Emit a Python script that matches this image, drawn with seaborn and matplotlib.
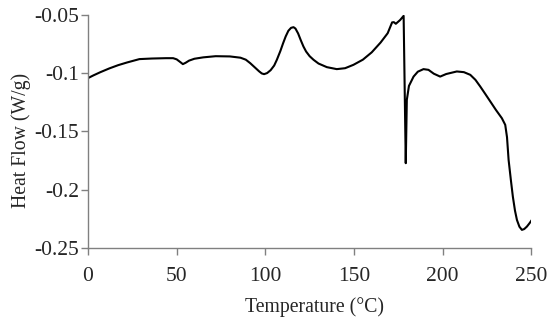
import matplotlib
matplotlib.use("Agg")
import matplotlib.pyplot as plt
import seaborn as sns
import pandas as pd

# DSC heat flow curve
temperature = [0, 3, 7, 12, 17, 22, 29, 36, 44, 48, 50, 52, 53.5, 55, 57, 60, 65, 72,
               80, 86, 89, 91.5, 94, 96.5, 98, 99.3, 101, 103, 105, 106.5, 108.5, 110,
               111.5, 113, 114.5, 115.9, 117, 118.5, 120, 121.5, 123, 125, 127.2, 130,
               134.7, 140.3, 145, 149.7, 155, 160, 165, 169, 171.5, 172.5, 173.6, 176,
               178, 179.2, 179.8, 181, 183.6, 186, 189.2, 192, 195, 198.6, 202, 208,
               212, 215.6, 218.5, 221.2, 224, 226.9, 230, 233.4, 235.3, 236.3, 237.2,
               238.5, 239.6, 240.8, 241.9, 243.3, 244.7, 246, 247.5, 249, 250.3]
heat_flow = [-0.1043, -0.102, -0.0992, -0.096, -0.0932, -0.0909, -0.088, -0.0875,
             -0.0872, -0.0872, -0.0882, -0.0905, -0.0923, -0.0912, -0.0893, -0.0877,
             -0.0865, -0.0855, -0.0857, -0.0868, -0.0885, -0.0915, -0.095, -0.0985,
             -0.1003, -0.1009, -0.1, -0.0975, -0.0935, -0.0886, -0.081, -0.0745,
             -0.0685, -0.0637, -0.0612, -0.0606, -0.0618, -0.066, -0.0718, -0.0772,
             -0.0815, -0.0855, -0.0886, -0.0918, -0.0949, -0.0966, -0.0958, -0.0929,
             -0.0885, -0.0822, -0.0738, -0.0658, -0.0565, -0.0563, -0.0577, -0.0545,
             -0.0509, -0.1773, -0.123, -0.111, -0.103, -0.0988, -0.0966, -0.0972,
             -0.1005, -0.103, -0.1008, -0.0986, -0.0992, -0.1015, -0.1058, -0.1115,
             -0.1178, -0.1244, -0.1315, -0.1387, -0.1444, -0.155, -0.1745, -0.192,
             -0.206, -0.218, -0.226, -0.2318, -0.2345, -0.2338, -0.2317, -0.2288, -0.226]

x_ticks = [0, 50, 100, 150, 200, 250]
y_ticks = [-0.25, -0.2, -0.15, -0.1, -0.05]
y_tick_labels = ["-0.25", "-0.2", "-0.15", "-0.1", "-0.05"]

df = pd.DataFrame({"T": temperature, "HF": heat_flow})

sns.set_style("white")
plt.rcParams["font.family"] = ["Liberation Serif", "DejaVu Serif"]

fig = plt.figure(figsize=(5.5, 3.22), dpi=100)
ax = fig.add_axes([0.16, 0.23, 0.806, 0.724])

sns.lineplot(data=df, x="T", y="HF", sort=False, estimator=None,
             color="black", linewidth=1.5, ax=ax)

ax.set_xlim(0, 250)
ax.set_ylim(-0.25, -0.05)
ax.set_xticks(x_ticks)
ax.set_yticks(y_ticks)
ax.set_yticklabels(y_tick_labels)

# axis titles sit a bit off-centre in the original
ax.set_xlabel("Temperature (°C)", fontsize=14.2, labelpad=8)
ax.set_ylabel("Heat Flow (W/g)", fontsize=14.2, labelpad=2.5)
ax.xaxis.label.set_x(0.51)
ax.yaxis.label.set_y(0.461)
ax.tick_params(axis="both", labelsize=15.5, length=5, width=1,
               color="#808080", direction="out", bottom=True, left=True)
ax.tick_params(axis="x", pad=9)
ax.tick_params(axis="y", pad=1.5)

for side in ["top", "right"]:
    ax.spines[side].set_visible(False)
for side in ["left", "bottom"]:
    ax.spines[side].set_color("#808080")
    ax.spines[side].set_linewidth(1)

plt.savefig("out.png", dpi=100)
plt.close()
